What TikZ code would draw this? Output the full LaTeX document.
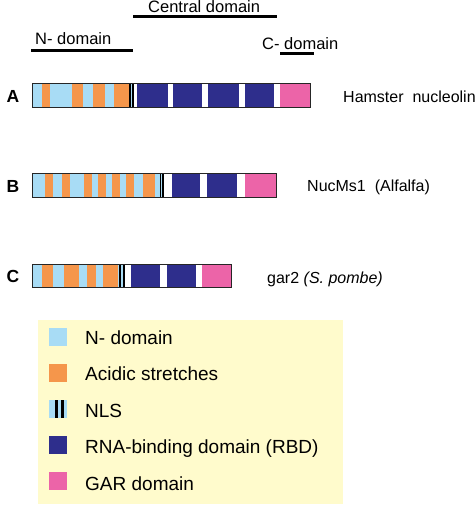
\documentclass[tikz,border=0pt]{standalone}
\usepackage{fontspec}
\setmainfont{Liberation Sans}
\definecolor{nblue}{RGB}{168,220,245}
\definecolor{acid}{RGB}{245,150,75}
\definecolor{rbd}{RGB}{46,46,140}
\definecolor{gar}{RGB}{236,100,168}
\definecolor{legbg}{RGB}{255,251,204}
\begin{document}
\begin{tikzpicture}[x=1pt,y=-1pt,toplab/.style={anchor=base west,inner sep=0pt,font=\fontsize{16.5}{18}\selectfont},domline/.style={line width=3pt},rowlab/.style={anchor=base,inner sep=0pt,font=\fontsize{17.5}{20}\selectfont\bfseries},orglab/.style={anchor=base west,inner sep=0pt,font=\fontsize{16}{18}\selectfont},boxline/.style={draw=black!85,line width=0.8pt},nls/.style={fill=black},swatch/.style={minimum size=18pt,inner sep=0pt},keylab/.style={anchor=base west,inner sep=0pt,font=\fontsize{19}{21}\selectfont}]
\useasboundingbox (0,0) rectangle (474,527);

% domain labels
\node[toplab] (cent) at (148,13) {Central domain};
\draw[domline] (133,17) -- (277,17);
\node[toplab] (ndom) at (35,45) {N- domain};
\draw[domline] (31,51) -- (133,51);
\node[toplab] (cdom) at (262,50) {C- domain};
\draw[domline] (280,54) -- (314,54);

% A: hamster
\def\ta{83};
\def\ba{107};
\fill[nblue] (32,\ta) rectangle (133.5,\ba);
\foreach \a/\b in {41.7/50,72.3/83.3,93.3/105,114/129.3}
  \fill[acid] (\a,\ta) rectangle (\b,\ba);
\fill[nls] (129.3,\ta) rectangle (130.5,\ba);
\fill[nls] (132,\ta) rectangle (133.5,\ba);
\fill[white] (133.5,\ta) rectangle (280,\ba);
\foreach \a/\b in {137/168,173/202,208/239,245/274}
  \fill[rbd] (\a,\ta) rectangle (\b,\ba);
\fill[gar] (280,\ta) rectangle (310,\ba);
\draw[boxline] (32,\ta) rectangle (310,\ba);
\node[rowlab] (A) at (13,102.7) {A};
\node[orglab] (hams) at (343,102) {Hamster~~nucleolin};

% B: alfalfa
\def\tb{173};
\def\bb{197};
\fill[nblue] (32,\tb) rectangle (163.5,\bb);
\foreach \a/\b in {45/53,62/70,84/92,98/106,112/120,126/134,143/155}
  \fill[acid] (\a,\tb) rectangle (\b,\bb);
\fill[nls] (159.5,\tb) rectangle (160.7,\bb);
\fill[nls] (162.2,\tb) rectangle (163.5,\bb);
\fill[white] (163.5,\tb) rectangle (245,\bb);
\foreach \a/\b in {172/200,207/237}
  \fill[rbd] (\a,\tb) rectangle (\b,\bb);
\fill[gar] (245,\tb) rectangle (276,\bb);
\draw[boxline] (32,\tb) rectangle (276,\bb);
\node[rowlab] (B) at (13,192.5) {B};
\node[orglab] (alf) at (307,191) {NucMs1~~(Alfalfa)};

% C: S. pombe
\def\tc{264};
\def\bc{287};
\fill[nblue] (32,\tc) rectangle (125,\bc);
\foreach \a/\b in {42/53,64/79,87/96,103/118}
  \fill[acid] (\a,\tc) rectangle (\b,\bc);
\fill[nls] (118.5,\tc) rectangle (120.5,\bc);
\fill[nls] (122.5,\tc) rectangle (125,\bc);
\fill[white] (125,\tc) rectangle (202,\bc);
\foreach \a/\b in {131/160,167/196}
  \fill[rbd] (\a,\tc) rectangle (\b,\bc);
\fill[gar] (202,\tc) rectangle (231,\bc);
\draw[boxline] (32,\tc) rectangle (231,\bc);
\node[rowlab] (C) at (13,282) {C};
\node[orglab] (pombe) at (267,283) {gar2 \textit{(S. pombe)}};

% key
\fill[legbg] (38,320) rectangle (343,504);
\node[swatch,fill=nblue] (kN) at (58,336.5) {};
\node[keylab] (tN) at (85,344) {N- domain};
\node[swatch,fill=acid] (kA) at (58,373) {};
\node[keylab] (tA) at (85,380) {Acidic stretches};
\node[swatch,fill=nblue] (kL) at (58,409) {};
\fill[nls] (55,400) rectangle (58.3,418);
\fill[nls] (60.7,400) rectangle (64,418);
\node[keylab] (tL) at (85,417) {NLS};
\node[swatch,fill=rbd] (kR) at (58,444.5) {};
\node[keylab] (tR) at (85,453) {RNA-binding domain (RBD)};
\node[swatch,fill=gar] (kG) at (58,481) {};
\node[keylab] (tG) at (85,490) {GAR domain};
\end{tikzpicture}
\end{document}
